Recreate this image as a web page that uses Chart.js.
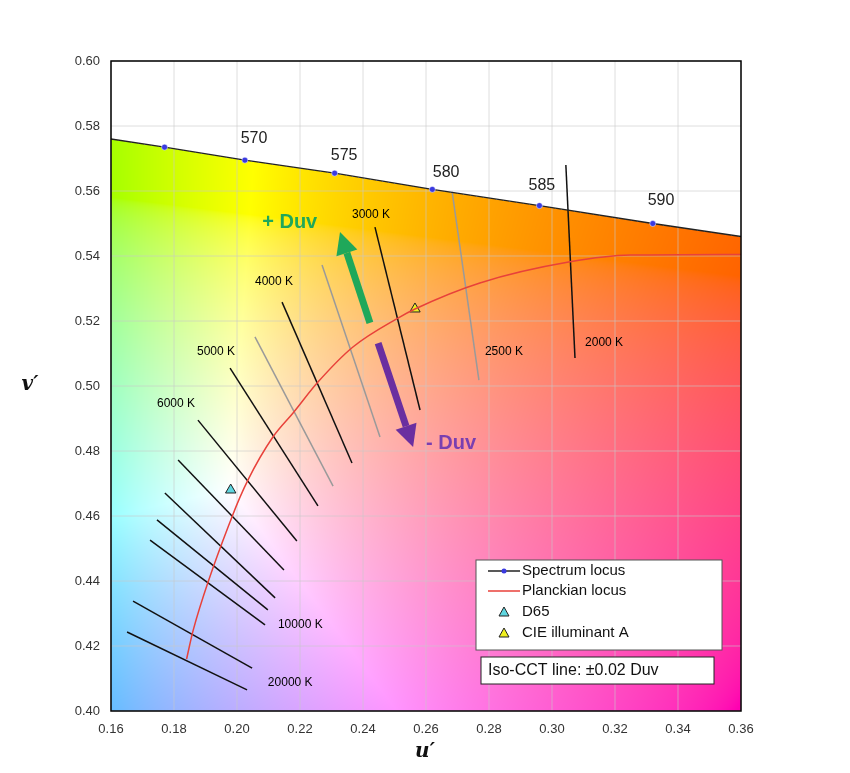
<!DOCTYPE html>
<html><head><meta charset="utf-8">
<script src="https://cdn.jsdelivr.net/npm/chart.js@4/dist/chart.umd.min.js"></script>
<style>html,body{margin:0;background:#fff}#w{width:850px;height:773px}</style>
</head><body><div id="w"><canvas id="c"></canvas></div>
<script>
const locusU=[0.16,0.177,0.2025,0.231,0.262,0.296,0.332,0.36];
const locusV=[0.576,0.5735,0.5695,0.5655,0.5605,0.5555,0.550,0.546];
const locusMarked=[false,true,true,true,true,true,true,false];
const wavelengthLabels=['570','575','580','585','590'];
const planckU=[0.184,0.1861,0.1984,0.2035,0.2114,0.2178,0.2257,0.2368,0.2511,0.2565,0.2771,0.3057,0.3248,0.36];
const planckV=[0.416,0.4249,0.4597,0.4711,0.4843,0.4917,0.5012,0.512,0.5209,0.5237,0.5317,0.5382,0.5403,0.5405];
const isoU1=[0.3044,0.2683,0.2438,0.227,0.2143,0.2057,0.1978,0.1876,0.1813,0.1771,0.1746,0.1724,0.167,0.1651];
const isoV1=[0.568,0.5597,0.5489,0.5372,0.5258,0.5151,0.5055,0.4895,0.4772,0.4671,0.4588,0.4526,0.4338,0.4243];
const isoU2=[0.3073,0.2768,0.2581,0.2454,0.2365,0.2305,0.2257,0.2190,0.2149,0.2121,0.2098,0.2089,0.2048,0.2032];
const isoV2=[0.5086,0.5018,0.4926,0.4843,0.4763,0.4692,0.4631,0.4523,0.4434,0.4348,0.4311,0.4265,0.4132,0.4065];
const isoGray=[false,true,false,true,false,true,false,false,false,false,false,false,false,false];
const cctLabels=['2000 K','2500 K','3000 K','4000 K','5000 K','6000 K','10000 K','20000 K'];
const d65=[0.198,0.468];
const illumA=[0.2565,0.5237];
const xTicks=[0.16,0.18,0.20,0.22,0.24,0.26,0.28,0.30,0.32,0.34,0.36];
const yTicks=[0.40,0.42,0.44,0.46,0.48,0.50,0.52,0.54,0.56,0.58,0.60];

function locusAt(u){for(let i=0;i<locusU.length-1;i++){if(u<=locusU[i+1]){const t=(u-locusU[i])/(locusU[i+1]-locusU[i]);return locusV[i]+t*(locusV[i+1]-locusV[i]);}}return locusV[locusV.length-1];}
function uvRGB(u,v){const d=6*u-16*v+12,x=9*u/d,y=4*v/d;const X=x/y,Y=1,Z=(1-x-y)/y;
let r=3.2406*X-1.5372*Y-0.4986*Z,g=-0.9689*X+1.8758*Y+0.0415*Z,b=0.0557*X-0.2040*Y+1.0570*Z;
r=Math.max(r,0);g=Math.max(g,0);b=Math.max(b,0);const m=Math.max(r,g,b)||1;
const gm=c=>{c/=m;return c<=0.0031308?12.92*c:1.055*Math.pow(c,1/2.4)-0.055};return [gm(r)*255,gm(g)*255,gm(b)*255];}

const bg={id:'bg',beforeDatasetsDraw(ch){const a=ch.chartArea,ctx=ch.ctx,xs=ch.scales.x,ys=ch.scales.y;
const w=Math.round(a.right-a.left),h=Math.round(a.bottom-a.top);const img=ctx.createImageData(w,h);
for(let j=0;j<h;j++){const v=ys.getValueForPixel(a.top+j);for(let i=0;i<w;i++){const u=xs.getValueForPixel(a.left+i);const k=(j*w+i)*4;
if(v>locusAt(u)){img.data[k]=255;img.data[k+1]=255;img.data[k+2]=255;}else{const c=uvRGB(u,v);img.data[k]=c[0];img.data[k+1]=c[1];img.data[k+2]=c[2];}img.data[k+3]=255;}}
ctx.putImageData(img,Math.round(a.left),Math.round(a.top));
ctx.save();ctx.strokeStyle='rgba(200,200,200,0.6)';ctx.lineWidth=1;
xTicks.forEach(t=>{const p=xs.getPixelForValue(t);ctx.beginPath();ctx.moveTo(p,a.top);ctx.lineTo(p,a.bottom);ctx.stroke();});
yTicks.forEach(t=>{const p=ys.getPixelForValue(t);ctx.beginPath();ctx.moveTo(a.left,p);ctx.lineTo(a.right,p);ctx.stroke();});
ctx.restore();}};

function arrow(ctx,x1,y1,x2,y2,col){const ang=Math.atan2(y2-y1,x2-x1);const hl=22,hw=11;const bx=x2-hl*Math.cos(ang),by=y2-hl*Math.sin(ang);
ctx.strokeStyle=col;ctx.fillStyle=col;ctx.lineWidth=7;ctx.beginPath();ctx.moveTo(x1,y1);ctx.lineTo(bx,by);ctx.stroke();
ctx.beginPath();ctx.moveTo(x2,y2);ctx.lineTo(bx+hw*Math.sin(ang),by-hw*Math.cos(ang));ctx.lineTo(bx-hw*Math.sin(ang),by+hw*Math.cos(ang));ctx.closePath();ctx.fill();}

const over={id:'over',afterDraw(ch){const ctx=ch.ctx,xs=ch.scales.x,ys=ch.scales.y,a=ch.chartArea;const P=(u,v)=>[xs.getPixelForValue(u),ys.getPixelForValue(v)];
ctx.save();ctx.strokeStyle='#000';ctx.lineWidth=1.5;ctx.strokeRect(a.left,a.top,a.right-a.left,a.bottom-a.top);
ctx.fillStyle='#222';ctx.font='16px Arial';ctx.textAlign='center';
const wl=[[0.2054,0.5748],[0.2340,0.5696],[0.2664,0.5643],[0.2968,0.5603],[0.3346,0.5557]];
wavelengthLabels.forEach((s,i)=>{const p=P(wl[i][0],wl[i][1]);ctx.fillText(s,p[0],p[1]);});
ctx.font='12px Arial';ctx.textAlign='left';ctx.fillStyle='#000';
const cl=[[0.3105,0.5123],[0.2787,0.5095],[0.2365,0.5517],[0.2057,0.531],[0.1873,0.5095],[0.1746,0.4935],[0.213,0.4255],[0.2098,0.4077]];
cctLabels.forEach((s,i)=>{const p=P(cl[i][0],cl[i][1]);ctx.fillText(s,p[0],p[1]);});
let s=P(0.2422,0.5194),e=P(0.2327,0.5474);arrow(ctx,s[0],s[1],e[0],e[1],'#1fa85a');
s=P(0.2448,0.5132);e=P(0.2559,0.4812);arrow(ctx,s[0],s[1],e[0],e[1],'#6a2fa0');
ctx.font='bold 20px Arial';ctx.fillStyle='#1fa85a';let p=P(0.208,0.5485);ctx.fillText('+ Duv',p[0],p[1]);
ctx.fillStyle='#7a3fb0';p=P(0.260,0.4805);ctx.fillText('- Duv',p[0],p[1]);
ctx.fillStyle='#fff';ctx.strokeStyle='#555';ctx.lineWidth=1;ctx.fillRect(476,560,246,90);ctx.strokeRect(476,560,246,90);
ctx.font='15px Arial';ctx.fillStyle='#111';ctx.textBaseline='middle';
ctx.strokeStyle='#222';ctx.lineWidth=1.5;ctx.beginPath();ctx.moveTo(488,571);ctx.lineTo(520,571);ctx.stroke();
ctx.fillStyle='#3a3ae0';ctx.beginPath();ctx.arc(504,571,2.5,0,7);ctx.fill();ctx.fillStyle='#111';ctx.fillText('Spectrum locus',522,571);
ctx.strokeStyle='#e8413a';ctx.beginPath();ctx.moveTo(488,591);ctx.lineTo(520,591);ctx.stroke();ctx.fillText('Planckian locus',522,591);
const tri=(x,y,c)=>{ctx.fillStyle=c;ctx.strokeStyle='#222';ctx.lineWidth=1;ctx.beginPath();ctx.moveTo(x,y-5);ctx.lineTo(x+5,y+4);ctx.lineTo(x-5,y+4);ctx.closePath();ctx.fill();ctx.stroke();};
tri(504,612,'#5fd6e0');ctx.fillStyle='#111';ctx.fillText('D65',522,612);
tri(504,633,'#f0f020');ctx.fillStyle='#111';ctx.fillText('CIE illuminant A',522,633);
ctx.fillStyle='#fff';ctx.fillRect(481,657,233,27);ctx.strokeStyle='#222';ctx.strokeRect(481,657,233,27);
ctx.fillStyle='#111';ctx.font='16px Arial';ctx.fillText('Iso-CCT line: ±0.02 Duv',488,671);
ctx.font='italic bold 20px "DejaVu Serif"';ctx.textAlign='center';ctx.fillText('u′',425,752);ctx.fillText('v′',30,385);
ctx.restore();}};

const datasets=[];
datasets.push({data:locusU.map((u,i)=>({x:u,y:locusV[i]})),borderColor:'#222',borderWidth:1.5,pointRadius:locusMarked.map(m=>m?3:0),pointBackgroundColor:'#3a3ae0',pointBorderColor:'#fff',pointBorderWidth:0.5});
datasets.push({data:planckU.map((u,i)=>({x:u,y:planckV[i]})),borderColor:'#e8413a',borderWidth:1.5,pointRadius:0,cubicInterpolationMode:'monotone'});
isoU1.forEach((u,i)=>datasets.push({data:[{x:u,y:isoV1[i]},{x:isoU2[i],y:isoV2[i]}],borderColor:isoGray[i]?'#9a9a9a':'#111',borderWidth:1.5,pointRadius:0}));
datasets.push({data:[{x:d65[0],y:d65[1]}],pointStyle:'triangle',pointRadius:6,backgroundColor:'#5fd6e0',borderColor:'#222',borderWidth:1,showLine:false});
datasets.push({data:[{x:illumA[0],y:illumA[1]}],pointStyle:'triangle',pointRadius:6,backgroundColor:'#f0f020',borderColor:'#222',borderWidth:1,showLine:false});

new Chart(document.getElementById('c'),{type:'scatter',data:{datasets:datasets.map(d=>Object.assign({showLine:true},d))},
plugins:[bg,over],
options:{responsive:true,maintainAspectRatio:false,animation:false,layout:{padding:{top:61,right:109,left:0,bottom:0}},
plugins:{legend:{display:false},tooltip:{enabled:false}},
scales:{x:{type:'linear',min:0.16,max:0.36,afterBuildTicks:s=>{s.ticks=xTicks.map(v=>({value:v}))},afterFit:s=>{s.height=62},grid:{display:false},border:{display:false},
ticks:{color:'#333',font:{size:13,family:'Arial'},callback:v=>v.toFixed(2)}},
y:{type:'linear',min:0.40,max:0.60,afterBuildTicks:s=>{s.ticks=yTicks.map(v=>({value:v}))},afterFit:s=>{s.width=111},grid:{display:false},border:{display:false},
ticks:{color:'#333',font:{size:13,family:'Arial'},callback:v=>v.toFixed(2)}}}}});
</script></body></html>
